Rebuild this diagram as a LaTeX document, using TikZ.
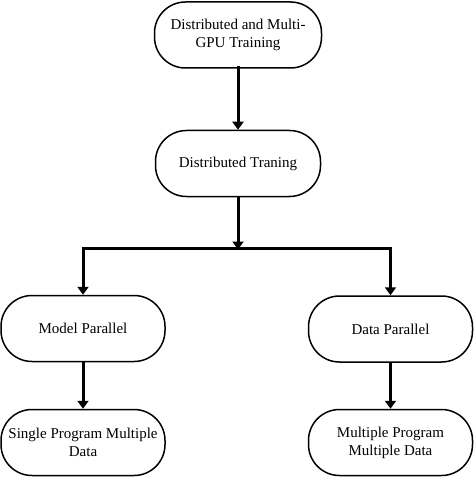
\documentclass[tikz,border=0pt]{standalone}
\usepackage{fontspec}
\setmainfont{Liberation Serif}
\usetikzlibrary{arrows.meta}
\begin{document}
\begin{tikzpicture}[x=1pt,y=-1pt,
  box/.style={draw,line width=1.5pt,rounded corners=31pt,minimum height=66pt,
    align=center,font=\fontsize{15}{18}\selectfont,inner sep=0pt},
  conn/.style={line width=3pt,-{Triangle[width=11pt,length=8pt]}},
  link/.style={line width=3pt}]
\useasboundingbox (0,0) rectangle (474,478);
\node[box,minimum width=167pt] (dmg) at (238,35) {Distributed and Multi-\\GPU Training};
\node[box,minimum width=165pt] (dt) at (238,163.5) {Distributed Traning};
\node[box,minimum width=164pt] (mp) at (83,328.5) {Model Parallel};
\node[box,minimum width=164pt] (dp) at (390.5,329) {Data Parallel};
\node[box,minimum width=164pt] (spmd) at (83,442.5) {Single Program Multiple\\Data};
\node[box,minimum width=164pt] (mpmd) at (390.5,442.5) {Multiple Program\\Multiple Data};
\coordinate (j) at (238,248);
\coordinate (jl) at (83,248);
\coordinate (jr) at (390.5,248);
\draw[conn] ([yshift=3pt]dmg.south) -- (dt.north);
\draw[conn] (dt.south) -- ([yshift=-1.5pt]j);
\draw[link] ([xshift=-1.5pt]jl) -- ([xshift=1.5pt]jr);
\draw[conn] ([yshift=-1.5pt]jl) -- (mp.north);
\draw[conn] ([yshift=-1.5pt]jr) -- (dp.north);
\draw[conn] (mp.south) -- (spmd.north);
\draw[conn] (dp.south) -- (mpmd.north);
\end{tikzpicture}
\end{document}
